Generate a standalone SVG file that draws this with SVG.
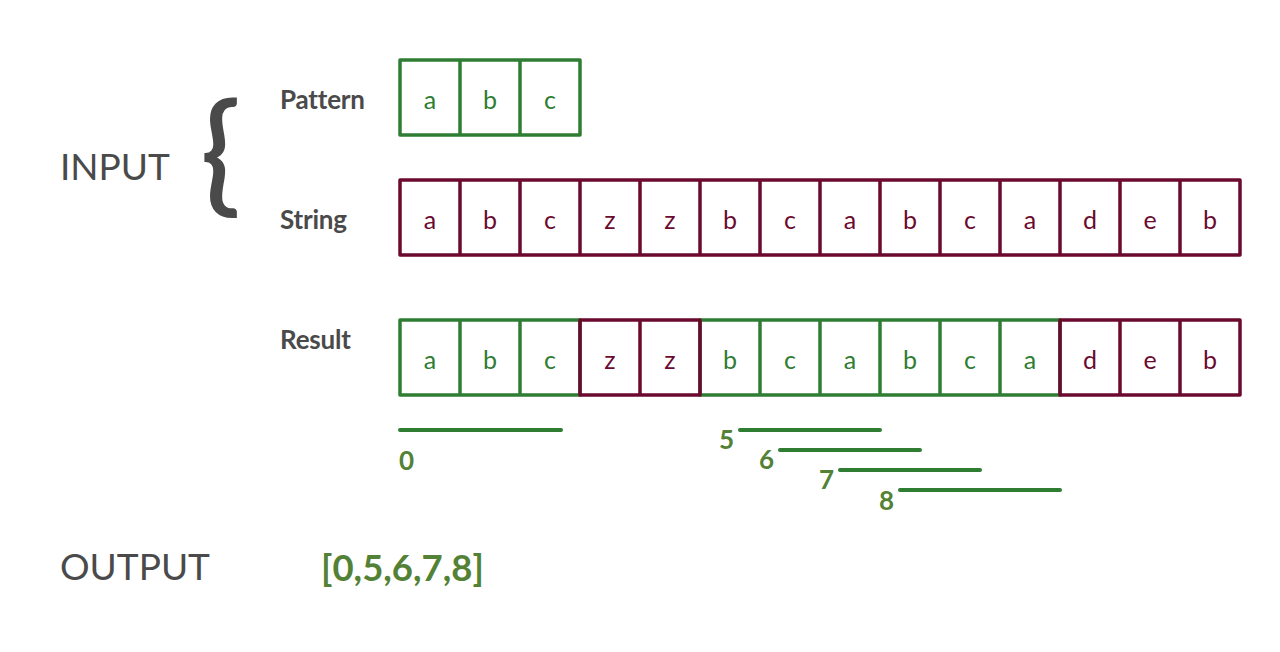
<svg xmlns="http://www.w3.org/2000/svg" width="1280" height="652" viewBox="0 0 1280 652">
<style>
.g{fill:none;stroke:#2e7d32;stroke-width:3.5;stroke-linejoin:round}
.m{fill:none;stroke:#6b0a2e;stroke-width:3.5;stroke-linejoin:round}
.tg{font-family:Lato,"Noto Sans",sans-serif;font-size:25px;fill:#2e7d32;text-anchor:middle}
.tm{font-family:Lato,"Noto Sans",sans-serif;font-size:25px;fill:#6b0a2e;text-anchor:middle}
.lab{font-family:Lato,"Noto Sans",sans-serif;font-size:26px;font-weight:bold;fill:#4a4a4a;letter-spacing:-0.2px}
.big{font-family:Lato,"Noto Sans",sans-serif;font-size:37px;fill:#4a4a4a}
.num{font-family:Lato,"Noto Sans",sans-serif;font-size:26px;font-weight:bold;fill:#538135}
.ln{stroke:#2e7d32;stroke-width:4;stroke-linecap:round}
</style>
<g id="labels">
<text class="big" x="60" y="180">INPUT</text>
<text id="brace" x="201" y="198" style="font-family:Lato,'Noto Sans',sans-serif;font-size:130px;fill:#4a4a4a;stroke:#4a4a4a;stroke-width:2">{</text>
<text class="lab" x="280" y="109">Pattern</text>
<text class="lab" x="280" y="229">String</text>
<text class="lab" x="280" y="349">Result</text>
<text class="big" x="60" y="580">OUTPUT</text>
<text id="output" x="321" y="581" style="font-family:Lato,'Noto Sans',sans-serif;font-size:36.5px;font-weight:bold;fill:#538135">[0,5,6,7,8]</text>
</g>
<g id="pattern">
<path class="g" d="M400 60H580V135H400Z M460 60V135 M520 60V135"/>
<text class="tg" x="430" y="109">a</text><text class="tg" x="490" y="109">b</text><text class="tg" x="550" y="109">c</text>
</g>
<g id="string">
<path class="m" d="M400 180H1240V255H400Z M460 180V255 M520 180V255 M580 180V255 M640 180V255 M700 180V255 M760 180V255 M820 180V255 M880 180V255 M940 180V255 M1000 180V255 M1060 180V255 M1120 180V255 M1180 180V255"/>
<g class="tm">
<text x="430" y="229">a</text><text x="490" y="229">b</text><text x="550" y="229">c</text><text x="610" y="229">z</text><text x="670" y="229">z</text><text x="730" y="229">b</text><text x="790" y="229">c</text><text x="850" y="229">a</text><text x="910" y="229">b</text><text x="970" y="229">c</text><text x="1030" y="229">a</text><text x="1090" y="229">d</text><text x="1150" y="229">e</text><text x="1210" y="229">b</text>
</g>
</g>
<g id="result">
<path class="g" d="M400 320H580V395H400Z M460 320V395 M520 320V395"/>
<path class="g" d="M700 320H1060V395H700Z M760 320V395 M820 320V395 M880 320V395 M940 320V395 M1000 320V395"/>
<path class="m" d="M580 320H700V395H580Z M640 320V395"/>
<path class="m" d="M1060 320H1240V395H1060Z M1120 320V395 M1180 320V395"/>
<g class="tg">
<text x="430" y="369">a</text><text x="490" y="369">b</text><text x="550" y="369">c</text><text x="730" y="369">b</text><text x="790" y="369">c</text><text x="850" y="369">a</text><text x="910" y="369">b</text><text x="970" y="369">c</text><text x="1030" y="369">a</text>
</g>
<g class="tm">
<text x="610" y="369">z</text><text x="670" y="369">z</text><text x="1090" y="369">d</text><text x="1150" y="369">e</text><text x="1210" y="369">b</text>
</g>
</g>
<g id="connectors">
<line class="ln" x1="400" y1="430" x2="561" y2="430"/>
<line class="ln" x1="740" y1="430" x2="880" y2="430"/>
<line class="ln" x1="780" y1="450" x2="920" y2="450"/>
<line class="ln" x1="840" y1="470" x2="980" y2="470"/>
<line class="ln" x1="900" y1="490" x2="1060" y2="490"/>
</g>
<g id="indices">
<text class="num" x="399" y="470">0</text>
<text class="num" x="719" y="449">5</text>
<text class="num" x="759" y="469">6</text>
<text class="num" x="819" y="489">7</text>
<text class="num" x="879" y="510">8</text>
</g>
</svg>
